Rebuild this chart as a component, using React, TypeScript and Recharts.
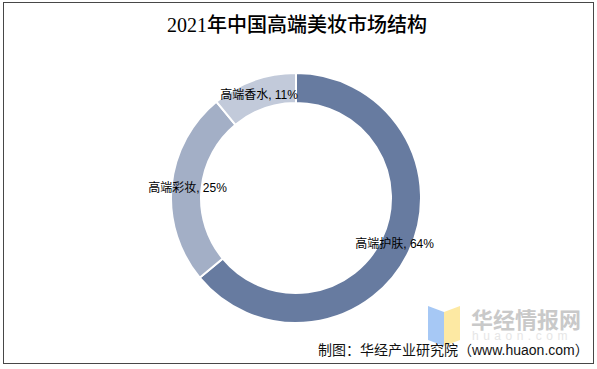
import { PieChart, Pie, Cell } from "recharts"

const categories = ["高端护肤", "高端彩妆", "高端香水"]
const shares = [64, 25, 11]
const colors = ["#677ba0", "#a3afc6", "#c2cada"]

const data = categories.map((name, i) => ({ name, value: shares[i] }))

const RAD = Math.PI / 180

const renderLabel = (props: any) => {
  const { cx, cy, midAngle, innerRadius, outerRadius, name, value } = props
  const r = (innerRadius + outerRadius) / 2 - 1
  const x = cx + r * Math.cos(-midAngle * RAD)
  const y = cy + r * Math.sin(-midAngle * RAD)
  return (
    <text
      x={x}
      y={y}
      textAnchor="middle"
      dominantBaseline="central"
      fontSize={12}
      fill="#000"
      fontFamily="'Liberation Sans', 'Noto Sans CJK SC', sans-serif"
    >
      {`${name}, ${value}%`}
    </text>
  )
}

export default function App() {
  return (
    <div style={{ position: "absolute", left: 0, top: 0, width: 597, height: 369, background: "#fff", overflow: "hidden" }}>
      {/* frame */}
      <div
        style={{
          position: "absolute",
          left: 3,
          top: 2,
          width: 589,
          height: 360,
          border: "1.5px solid #474747",
        }}
      />
      <div
        style={{
          position: "absolute",
          left: 0,
          top: 12,
          width: 594,
          textAlign: "center",
          fontFamily: "'Liberation Serif', 'Noto Sans CJK SC', serif",
          fontSize: 20,
          fontWeight: 500,
          color: "#000",
          whiteSpace: "nowrap",
          lineHeight: "26px",
        }}
      >
        2021年中国高端美妆市场结构
      </div>

      <div style={{ position: "absolute", left: 0, top: 0 }}>
        <PieChart width={597} height={369} margin={{ top: 0, right: 0, bottom: 0, left: 0 }}>
          <Pie
            data={data}
            dataKey="value"
            nameKey="name"
            cx={296}
            cy={198}
            innerRadius={95}
            outerRadius={125}
            startAngle={90}
            endAngle={-270}
            stroke="#fff"
            strokeWidth={2}
            label={renderLabel}
            labelLine={false}
            isAnimationActive={false}
          >
            {data.map((d, i) => (
              <Cell key={d.name} fill={colors[i]} />
            ))}
          </Pie>
        </PieChart>
      </div>

      {/* watermark logo */}
      <svg style={{ position: "absolute", left: 426, top: 304 }} width={40} height={44}>
        <polygon points="2,2 18,8 18,42 2,36" fill="#a6c8f5" />
        <polygon points="18,8 34,2 34,36 18,42" fill="#fde9a3" />
      </svg>
      <div
        style={{
          position: "absolute",
          left: 471,
          top: 306,
          fontFamily: "'Noto Sans CJK SC', sans-serif",
          fontSize: 22,
          fontWeight: "bold",
          color: "#c9c9c9",
          lineHeight: "24px",
        }}
      >
        华经情报网
      </div>
      <div
        style={{
          position: "absolute",
          left: 472,
          top: 331,
          fontFamily: "'Liberation Sans', sans-serif",
          fontSize: 12,
          lineHeight: "11px",
          color: "#e6e6e6",
          letterSpacing: 4.5,
        }}
      >
        huaon.com
      </div>

      <div
        style={{
          position: "absolute",
          left: 318,
          top: 343,
          fontFamily: "'Liberation Sans', 'Noto Sans CJK SC', sans-serif",
          fontSize: 14,
          lineHeight: "15px",
          color: "#111",
          whiteSpace: "nowrap",
        }}
      >
        制图：华经产业研究院（www.huaon.com）
      </div>
    </div>
  )
}
